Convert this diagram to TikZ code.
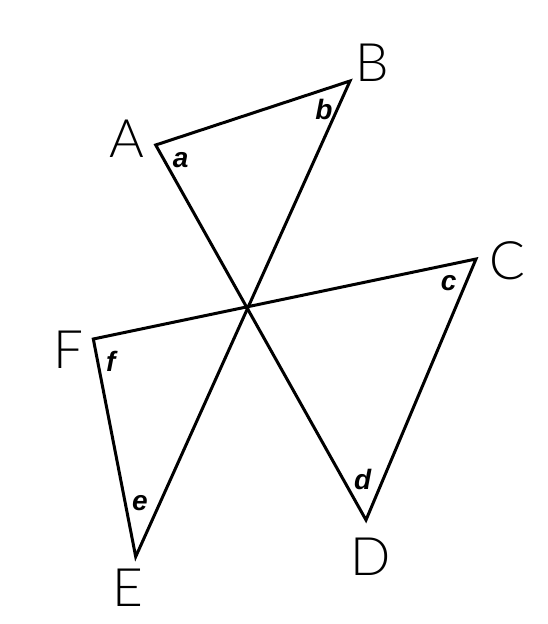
\documentclass[tikz,border=0pt]{standalone}
\usepackage{fontspec}
\setmainfont{Lato}[UprightFont=* Light]
\newfontfamily\anglefont{Liberation Sans}
\usepackage{tikz}

\begin{document}
\begin{tikzpicture}[x=1pt,y=-1pt,line width=3pt,line join=miter,
  vlabel/.style={inner sep=0pt,font=\fontsize{53}{53}\selectfont},
  alabel/.style={inner sep=0pt,font=\anglefont\fontsize{28}{28}\selectfont\bfseries\itshape}]
\useasboundingbox (0,0) rectangle (548,624);
\coordinate (A) at (155.7,145);
\coordinate (B) at (350,81);
\coordinate (C) at (476,259);
\coordinate (D) at (366,520);
\coordinate (E) at (135.7,556.7);
\coordinate (F) at (93.3,339);
\draw (B)--(A)--(D)--(C)--(F)--(E)--cycle;
\node[vlabel] (LA) at (127,139) {A};
\node[vlabel] (LB) at (372,62.5) {B};
\node[vlabel] (LC) at (507.5,261) {C};
\node[vlabel] (LD) at (371,557) {D};
\node[vlabel] (LE) at (127.5,587.5) {E};
\node[vlabel] (LF) at (68,350) {F};
\node[alabel] (a) at (180.7,160) {a};
\node[alabel] (b) at (324,109) {b};
\node[alabel] (c) at (448.7,282.7) {c};
\node[alabel] (d) at (362.7,479.3) {d};
\node[alabel] (e) at (140,502.7) {e};
\node[alabel] (f) at (110.7,361) {f};
\end{tikzpicture}
\end{document}
